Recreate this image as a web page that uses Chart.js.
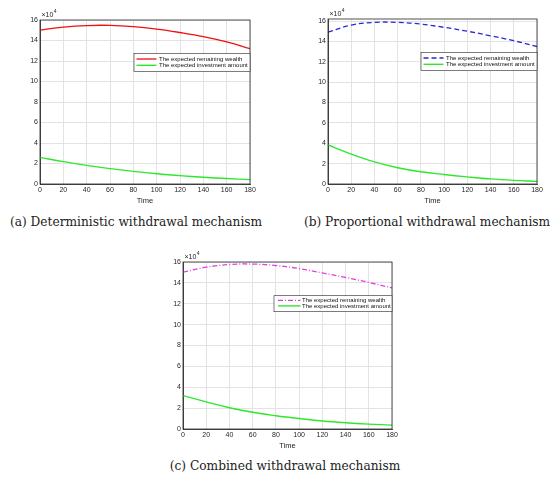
<!DOCTYPE html>
<html>
<head>
<meta charset="utf-8">
<script src="https://cdn.jsdelivr.net/npm/chart.js@4.4.1/dist/chart.umd.min.js"></script>
<style>
    body { margin: 0; background: #fff; width: 559px; height: 481px; position: relative; overflow: hidden; }
    canvas { position: absolute; }
    .caption {
        position: absolute;
        transform: translateX(-50%);
        white-space: nowrap;
        font-family: "DejaVu Serif", serif;
        font-size: 12.2px;
        line-height: 14px;
        color: #222;
    }
</style>
</head>
<body>
<canvas id="chartA" width="270" height="206" style="left:0px; top:0px;"></canvas>
<canvas id="chartB" width="270" height="206" style="left:288px; top:0px;"></canvas>
<canvas id="chartC" width="270" height="209" style="left:143px; top:242px;"></canvas>
<div class="caption" style="left:136px; top:215px;">(a) Deterministic withdrawal mechanism</div>
<div class="caption" style="left:427px; top:215px;">(b) Proportional withdrawal mechanism</div>
<div class="caption" style="left:285px; top:459px;">(c) Combined withdrawal mechanism</div>
<script>
// values in units of 10^4
const timePoints = [0, 20, 40, 60, 80, 100, 120, 140, 160, 180];
const xTicks = [0, 20, 40, 60, 80, 100, 120, 140, 160, 180];
const yTicks = [0, 2, 4, 6, 8, 10, 12, 14, 16];
const legendLabels = ['The expected remaining wealth', 'The expected investment amount'];

const wealthDeterministic = [15.02, 15.3, 15.46, 15.48, 15.36, 15.12, 14.78, 14.38, 13.86, 13.2];
const investDeterministic = [2.6, 2.18, 1.82, 1.5, 1.23, 1.0, 0.82, 0.66, 0.53, 0.43];

const wealthProportional = [14.9, 15.6, 15.87, 15.87, 15.7, 15.38, 15.0, 14.55, 14.07, 13.5];
const investProportional = [3.83, 2.93, 2.17, 1.6, 1.2, 0.93, 0.7, 0.5, 0.36, 0.26];

const wealthCombined = [15.02, 15.5, 15.76, 15.8, 15.66, 15.37, 14.95, 14.52, 14.04, 13.52];
const investCombined = [3.2, 2.6, 2.04, 1.6, 1.27, 1.0, 0.77, 0.6, 0.47, 0.37];

const FONT = '"Liberation Sans", Arial, sans-serif';
const AXIS_COLOR = '#262626';
const GRID_COLOR = '#e3e3e3';

function toPoints(values) {
    return values.map((v, i) => ({ x: timePoints[i], y: v }));
}

// draws the box, the x10^4 exponent and the MATLAB style legend
const framePlugin = {
    id: 'frame',
    afterDraw(chart, args, opts) {
        const ctx = chart.ctx;
        const a = chart.chartArea;
        ctx.save();
        ctx.strokeStyle = AXIS_COLOR;
        ctx.lineWidth = 0.8;
        ctx.strokeRect(a.left, a.top, a.right - a.left, a.bottom - a.top);

        // exponent label
        ctx.fillStyle = AXIS_COLOR;
        ctx.textBaseline = 'alphabetic';
        ctx.textAlign = 'left';
        ctx.font = '7px ' + FONT;
        ctx.fillText('\u00d710', a.left + 1.5, a.top - 3);
        const w = ctx.measureText('\u00d710').width;
        ctx.font = '5px ' + FONT;
        ctx.fillText('4', a.left + 2 + w, a.top - 7);

        // legend
        const lg = opts.legend;
        const bx = a.right - lg.width;
        const by = a.top + lg.offsetY;
        ctx.fillStyle = '#fff';
        ctx.fillRect(bx, by, lg.width, lg.height);
        ctx.strokeStyle = AXIS_COLOR;
        ctx.lineWidth = 0.6;
        ctx.strokeRect(bx, by, lg.width, lg.height);
        ctx.font = '6px ' + FONT;
        ctx.textBaseline = 'middle';
        chart.data.datasets.forEach((ds, i) => {
            const y = by + lg.rowY[i];
            ctx.save();
            ctx.strokeStyle = ds.borderColor;
            ctx.lineWidth = ds.borderWidth;
            ctx.setLineDash(ds.borderDash || []);
            ctx.beginPath();
            ctx.moveTo(bx + lg.lineStart, y);
            ctx.lineTo(bx + lg.lineEnd, y);
            ctx.stroke();
            ctx.restore();
            ctx.fillStyle = '#111';
            ctx.fillText(ds.label, bx + lg.textX, y);
        });
        ctx.restore();
    }
};

function makeChart(id, wealth, invest, style, frame) {
    const ctx = document.getElementById(id).getContext('2d');
    new Chart(ctx, {
        type: 'line',
        data: {
            datasets: [{
                label: legendLabels[0],
                data: toPoints(wealth),
                borderColor: style.color,
                borderWidth: 1.3,
                borderDash: style.dash,
                pointRadius: 0,
                tension: 0.4
            }, {
                label: legendLabels[1],
                data: toPoints(invest),
                borderColor: '#2ee82e',
                borderWidth: 1.4,
                pointRadius: 0,
                tension: 0.4
            }]
        },
        options: {
            responsive: false,
            animation: false,
            layout: { padding: { left: 0, top: frame.top, right: frame.right, bottom: 0 } },
            plugins: {
                legend: { display: false },
                tooltip: { enabled: false },
                frame: { legend: frame.legend }
            },
            scales: {
                x: {
                    type: 'linear',
                    min: 0,
                    max: 180,
                    afterBuildTicks: s => { s.ticks = xTicks.map(v => ({ value: v })); },
                    afterFit: s => { s.height = 22; },
                    grid: { color: GRID_COLOR, drawTicks: false },
                    border: { color: AXIS_COLOR, width: 0.8 },
                    ticks: { font: { size: 7, family: FONT }, color: AXIS_COLOR, padding: 2, maxRotation: 0 },
                    title: {
                        display: true,
                        text: 'Time',
                        font: { size: 7.5, family: FONT },
                        color: AXIS_COLOR,
                        padding: { top: 0, bottom: 1 }
                    }
                },
                y: {
                    min: 0,
                    max: frame.ymax,
                    afterBuildTicks: s => { s.ticks = yTicks.map(v => ({ value: v })); },
                    afterFit: s => { s.width = 40; },
                    grid: { color: GRID_COLOR, drawTicks: false },
                    border: { color: AXIS_COLOR, width: 0.8 },
                    ticks: { font: { size: 7, family: FONT }, color: AXIS_COLOR, padding: 2 }
                }
            }
        },
        plugins: [framePlugin]
    });
}

const legendWide = { width: 116, height: 18, offsetY: 33.5, rowY: [5.5, 11.8], lineStart: 2.5, lineEnd: 22.5, textX: 25 };

makeChart('chartA', wealthDeterministic, investDeterministic,
    { color: '#f01010', dash: [] },
    { top: 20, right: 20, ymax: 16, legend: legendWide });

makeChart('chartB', wealthProportional, investProportional,
    { color: '#2828d8', dash: [5, 3] },
    { top: 19, right: 21, ymax: 16.2, legend: legendWide });

makeChart('chartC', wealthCombined, investCombined,
    { color: '#e040e0', dash: [5, 2, 1, 2] },
    { top: 20, right: 21, ymax: 16, legend: { width: 118, height: 16, offsetY: 33.7, rowY: [4.6, 10.2], lineStart: 4, lineEnd: 26.5, textX: 28 } });
</script>
</body>
</html>
